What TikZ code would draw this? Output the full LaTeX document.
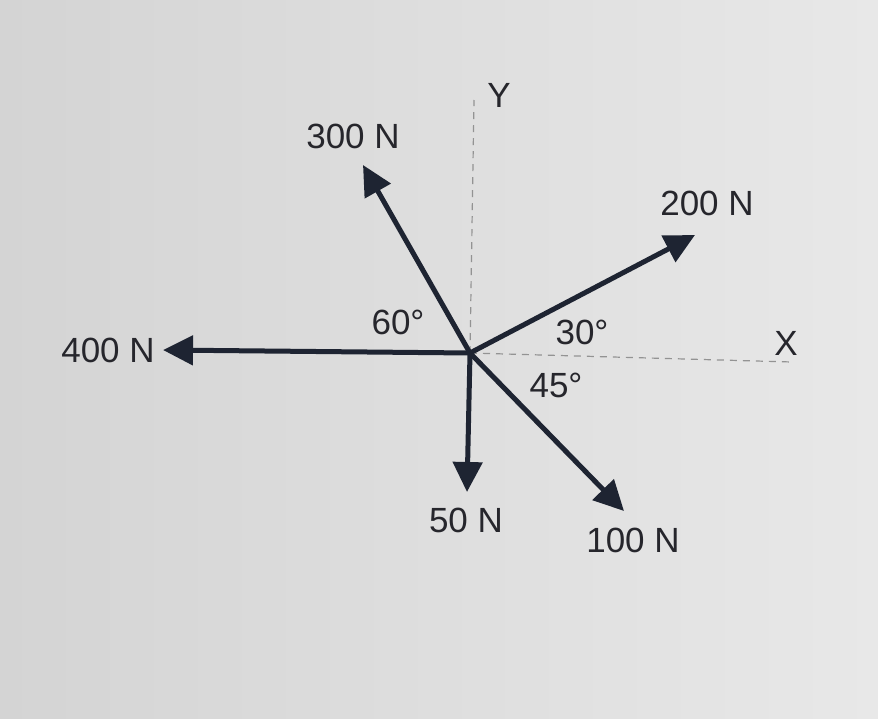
\documentclass[tikz,border=0pt]{standalone}
\usepackage{fontspec}
\setmainfont{Liberation Sans}
\usetikzlibrary{arrows.meta}
\begin{document}
\begin{tikzpicture}[x=1pt,y=-1pt,
  force/.style={line width=5pt,draw=arrowc,-{Triangle[length=30pt,width=29pt]}},
  axis/.style={line width=1.2pt,draw=gray!85,dash pattern=on 7pt off 6pt},
  lbl/.style={text=textc,font=\fontsize{35}{35}\selectfont,inner sep=0pt}]
\definecolor{arrowc}{RGB}{30,36,50}
\definecolor{textc}{RGB}{38,38,44}
\definecolor{bgA}{RGB}{212,212,212}
\definecolor{bgB}{RGB}{232,232,232}
\useasboundingbox (0,0) rectangle (878,718);
\shade[left color=bgA,right color=bgB] (0,0) rectangle (878,718);
\coordinate (O) at (470,353);
\coordinate (yend) at (474,100);
\coordinate (xend) at (792,362);
\coordinate (t300) at (363,165);
\coordinate (t200) at (695,235);
\coordinate (t400) at (163,350);
\coordinate (t50) at (467,492);
\coordinate (t100) at (624,511);
\draw[axis] (O) -- (yend);
\draw[axis] (O) -- (xend);
\draw[force] (O) -- (t300);
\draw[force] (O) -- (t200);
\draw[force] (O) -- (t400);
\draw[force] (O) -- (t50);
\draw[force] (O) -- (t100);
\node[lbl] (ly) at (499,95) {Y};
\node[lbl] (lx) at (786,343) {X};
\node[lbl] (l300) at (353,136) {300 N};
\node[lbl] (l200) at (707,203) {200 N};
\node[lbl] (l400) at (108,350) {400 N};
\node[lbl] (l50) at (466,520) {50 N};
\node[lbl] (l100) at (633,540) {100 N};
\node[lbl] (a60) at (398,322) {60°};
\node[lbl] (a30) at (582,332) {30°};
\node[lbl] (a45) at (556,385) {45°};
\end{tikzpicture}
\end{document}
